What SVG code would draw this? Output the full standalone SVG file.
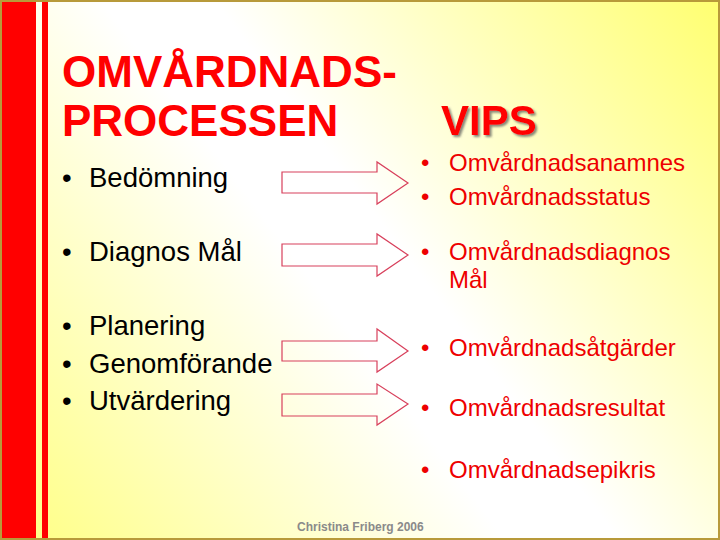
<svg xmlns="http://www.w3.org/2000/svg" width="720" height="540" viewBox="0 0 720 540">
<style>
.t{font-family:"Liberation Sans",Arial,sans-serif}
.title{font-weight:bold;font-size:44px;fill:#ff0000}
.left{font-size:27.5px;fill:#000}
.right{font-size:24px;fill:#ee0000}
.arr{fill:none;stroke:#d8405c;stroke-width:1.2}
</style>
<defs>
<linearGradient id="bg" gradientUnits="userSpaceOnUse" x1="0" y1="540" x2="720" y2="0">
<stop offset="0" stop-color="#ffff80"/>
<stop offset="0.45" stop-color="#ffffff"/>
<stop offset="0.55" stop-color="#ffffff"/>
<stop offset="1" stop-color="#ffff70"/>
</linearGradient>
<filter id="sh" x="-10%" y="-10%" width="130%" height="130%">
<feDropShadow dx="2" dy="2" stdDeviation="0.8" flood-color="#555" flood-opacity="0.7"/>
</filter>
</defs>
<rect x="0" y="0" width="720" height="540" fill="url(#bg)"/>
<rect x="0" y="0" width="36" height="540" fill="#ff0000"/>
<rect x="42" y="0" width="6" height="540" fill="#ff0000"/>
<rect x="1" y="1" width="718" height="538" fill="none" stroke="#b89a3a" stroke-width="2"/>

<g id="title">
<text class="t title" x="62" y="87">OMVÅRDNADS-</text>
<text class="t title" x="62" y="136">PROCESSEN</text>
</g>
<g id="vips">
<text class="t title" x="441" y="135" style="font-size:42px" filter="url(#sh)">VIPS</text>
</g>

<g id="left-list" class="t left">
<g id="bedomning"><text x="62" y="187">•</text><text x="89" y="187">Bedömning</text></g>
<g id="diagnos"><text x="62" y="261">•</text><text x="89" y="261">Diagnos Mål</text></g>
<g id="planering"><text x="62" y="335">•</text><text x="89" y="335">Planering</text></g>
<g id="genomforande"><text x="62" y="373">•</text><text x="89" y="373">Genomförande</text></g>
<g id="utvardering"><text x="62" y="410">•</text><text x="89" y="410">Utvärdering</text></g>
</g>

<g id="connectors">
<polygon class="arr" points="282,172 377,172 377,162 408,183 377,204 377,193 282,193"/>
<polygon class="arr" points="282,244 377,244 377,234 408,255 377,276 377,266 282,266"/>
<polygon class="arr" points="282,341 377,341 377,329 408,351 377,372 377,361 282,361"/>
<polygon class="arr" points="282,394 377,394 377,384 408,404 377,425 377,416 282,416"/>
</g>

<g id="right-list" class="t right">
<g id="anamnes"><text x="421" y="171">•</text><text x="449" y="171">Omvårdnadsanamnes</text></g>
<g id="status"><text x="421" y="205">•</text><text x="449" y="205">Omvårdnadsstatus</text></g>
<g id="diagnos-r"><text x="421" y="260">•</text><text x="449" y="260">Omvårdnadsdiagnos</text><text x="449" y="288">Mål</text></g>
<g id="atgarder"><text x="421" y="356">•</text><text x="449" y="356">Omvårdnadsåtgärder</text></g>
<g id="resultat"><text x="421" y="416">•</text><text x="449" y="416">Omvårdnadsresultat</text></g>
<g id="epikris"><text x="421" y="478">•</text><text x="449" y="478">Omvårdnadsepikris</text></g>
</g>

<g id="footer">
<text class="t" x="297" y="531" style="font-size:12px;font-weight:bold;fill:#8a8a8a">Christina Friberg 2006</text>
</g>
</svg>
